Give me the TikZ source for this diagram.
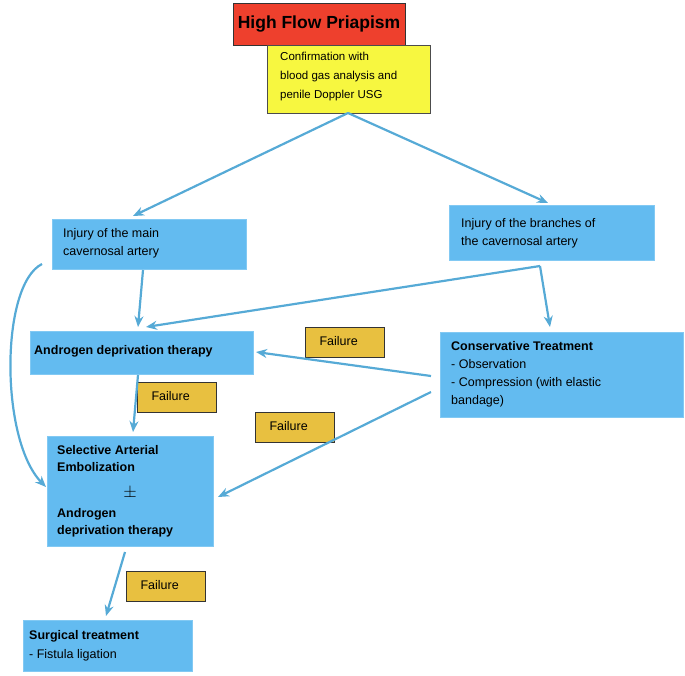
\documentclass[tikz,border=0pt]{standalone}
\usepackage{fontspec}
\setmainfont{Liberation Sans}
\usetikzlibrary{arrows.meta}
\definecolor{bl}{RGB}{99,187,240}
\definecolor{ar}{RGB}{86,170,214}
\definecolor{yl}{RGB}{232,192,64}
\begin{document}
\begin{tikzpicture}[x=1pt,y=-1pt,
 box/.style={fill=bl,draw=bl!80!white,line width=0.6pt,inner sep=0pt},
 txt/.style={align=left,font=\fontsize{12.5}{18}\selectfont,anchor=north west,inner sep=0pt},
 fail/.style={fill=yl,draw=black!80,line width=0.8pt,inner sep=0pt},
 arr/.style={draw=ar,line width=2.2pt,-{Stealth[length=11pt,width=9pt]}}]
\useasboundingbox (0,0) rectangle (685,675);
% title
\draw[fill={rgb,255:red,238;green,64;blue,45},draw=black!80,line width=0.8pt] (233,3) rectangle (405,45);
\node[font=\bfseries\fontsize{17.5}{20}\selectfont] (title) at (319,24) {High Flow Priapism};
\draw[fill={rgb,255:red,247;green,247;blue,64},draw=black!70,line width=0.6pt] (267,45) rectangle (430,113);
\node[txt,font=\fontsize{11.5}{19}\selectfont] (conf) at (280,52) {Confirmation with\\blood gas analysis and\\penile Doppler USG};
\coordinate (cb) at (348,113);
% boxes
\draw[box] (52,219) rectangle (246,269);
\node[txt] (main) at (63,228) {Injury of the main\\cavernosal artery};
\draw[box] (449,205) rectangle (654,260);
\node[txt] (br) at (461,218) {Injury of the branches of\\the cavernosal artery};
\draw[box] (30,331) rectangle (253,374);
\node[txt,font=\bfseries\fontsize{12.5}{15}\selectfont] (adt) at (34,345) {Androgen deprivation therapy};
\draw[box] (440,332) rectangle (683,417);
\node[txt,font=\fontsize{12.5}{18}\selectfont] (cons) at (451,341) {\textbf{Conservative Treatment}\\- Observation\\- Compression (with elastic\\bandage)};
\draw[box] (47,436) rectangle (213,546);
\node[txt,font=\bfseries\fontsize{12.5}{17}\selectfont] (sae) at (57,445) {Selective Arterial\\Embolization};
\node[font=\bfseries\fontsize{16}{16}\selectfont,inner sep=0pt] (pm) at (130,493) {$\pm$};
\node[txt,font=\bfseries\fontsize{12.5}{17}\selectfont] (sae2) at (57,508) {Androgen\\deprivation therapy};
\draw[box] (23,620) rectangle (192,671);
\node[txt,font=\fontsize{12.5}{19}\selectfont] (surg) at (29,630) {\textbf{Surgical treatment}\\- Fistula ligation};
% failures
\foreach \n/\x/\y in {f1/305/327,f2/137/382,f3/255/412,f4/126/571}{
 \draw[fail] (\x,\y) rectangle ++(79,30);
 \node[font=\fontsize{12.5}{14}\selectfont,anchor=west] (\n) at (\x+11,\y+14) {Failure};}
% arrows
\coordinate (b1) at (133,216);
\coordinate (b2) at (548,203);
\draw[arr] (cb) -- (b1);
\draw[arr] (cb) -- (b2);
\coordinate (mb) at (143,270); \coordinate (at) at (138,327);
\draw[arr] (mb) -- (at);
\coordinate (brb) at (540,266);
\coordinate (at2) at (146,327);
\coordinate (ct) at (550,327);
\draw[arr] (brb) -- (at2);
\draw[arr] (brb) -- (ct);
\coordinate (cl1) at (431,376); \coordinate (ar1) at (256,352);
\draw[arr] (cl1) -- (ar1);
\coordinate (cl2) at (431,392); \coordinate (sr) at (218,497);
\draw[arr] (cl2) -- (sr);
\coordinate (ab) at (138,375); \coordinate (st) at (133,432);
\draw[arr] (ab) -- (st);
\coordinate (mc) at (42,264); \coordinate (sl) at (46,487);
\draw[arr] (mc) .. controls (0,285) and (0,440) .. (sl);
\coordinate (sb) at (125,552); \coordinate (su) at (106,616);
\draw[arr] (sb) -- (su);
\end{tikzpicture}
\end{document}
